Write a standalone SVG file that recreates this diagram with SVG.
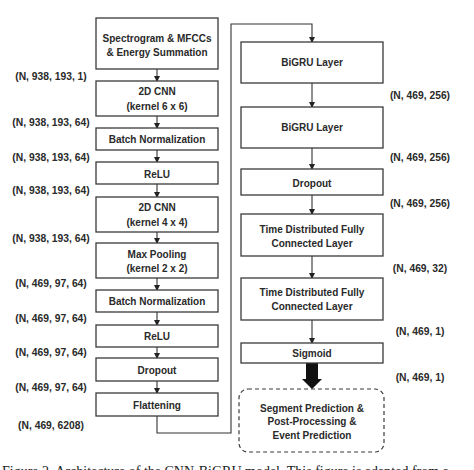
<svg xmlns="http://www.w3.org/2000/svg" width="474" height="470" viewBox="0 0 474 470">
<defs>
<style>
.box{fill:#fff;stroke:#3a3a3a;stroke-width:1.3}
.dash{fill:#fff;stroke:#3a3a3a;stroke-width:1.2;stroke-dasharray:4 3}
.t{font-family:"Liberation Sans",Arial,sans-serif;font-weight:bold;font-size:10px;fill:#2a2a2a;text-anchor:middle}
.lb{font-family:"Liberation Sans",Arial,sans-serif;font-weight:bold;font-size:10.3px;fill:#2a2a2a;text-anchor:middle}
.ln{fill:none;stroke:#333;stroke-width:1.1}
.cap{font-family:"Liberation Serif","Times New Roman",serif;font-size:14px;fill:#222}
</style>
<marker id="ah" markerWidth="6" markerHeight="6" refX="5" refY="3" orient="auto" markerUnits="userSpaceOnUse">
<path d="M0,0 L6,3 L0,6 Z" fill="#222"/>
</marker>
</defs>
<rect width="474" height="470" fill="#fff"/>
<g id="connectors">
<line class="ln" x1="157" y1="69" x2="157" y2="81" marker-end="url(#ah)"/>
<line class="ln" x1="157" y1="116" x2="157" y2="128" marker-end="url(#ah)"/>
<line class="ln" x1="157" y1="150" x2="157" y2="162" marker-end="url(#ah)"/>
<line class="ln" x1="157" y1="184" x2="157" y2="197" marker-end="url(#ah)"/>
<line class="ln" x1="157" y1="232" x2="157" y2="243" marker-end="url(#ah)"/>
<line class="ln" x1="157" y1="278" x2="157" y2="290" marker-end="url(#ah)"/>
<line class="ln" x1="157" y1="312" x2="157" y2="325" marker-end="url(#ah)"/>
<line class="ln" x1="157" y1="347" x2="157" y2="358" marker-end="url(#ah)"/>
<line class="ln" x1="157" y1="381" x2="157" y2="393" marker-end="url(#ah)"/>
<polyline class="ln" points="157,416 157,433 231,433 231,24 312,24 312,42" marker-end="url(#ah)"/>
<line class="ln" x1="312" y1="83" x2="312" y2="107" marker-end="url(#ah)"/>
<line class="ln" x1="312" y1="148" x2="312" y2="169" marker-end="url(#ah)"/>
<line class="ln" x1="312" y1="195" x2="312" y2="214" marker-end="url(#ah)"/>
<line class="ln" x1="312" y1="256" x2="312" y2="278" marker-end="url(#ah)"/>
<line class="ln" x1="312" y1="320" x2="312" y2="343" marker-end="url(#ah)"/>
<path d="M306,363 L318,363 L318,379 L322,379 L312,389 L302,379 L306,379 Z" fill="#111"/>
</g>
<g id="n-spectrogram"><rect class="box" x="96" y="18" width="122" height="51"/><text class="t" x="157" y="41.5">Spectrogram &amp; MFCCs</text><text class="t" x="157" y="55.5">&amp; Energy Summation</text></g>
<g id="n-cnn1"><rect class="box" x="96" y="81" width="122" height="35"/><text class="t" x="157" y="94.5">2D CNN</text><text class="t" x="157" y="110">(kernel 6 x 6)</text></g>
<g id="n-bn1"><rect class="box" x="96" y="128" width="122" height="22"/><text class="t" x="157" y="142.5">Batch Normalization</text></g>
<g id="n-relu1"><rect class="box" x="96" y="162" width="122" height="22"/><text class="t" x="157" y="177.5">ReLU</text></g>
<g id="n-cnn2"><rect class="box" x="96" y="197" width="122" height="35"/><text class="t" x="157" y="210.5">2D CNN</text><text class="t" x="157" y="225.5">(kernel 4 x 4)</text></g>
<g id="n-maxpool"><rect class="box" x="96" y="243" width="122" height="35"/><text class="t" x="157" y="257.5">Max Pooling</text><text class="t" x="157" y="271.5">(kernel 2 x 2)</text></g>
<g id="n-bn2"><rect class="box" x="96" y="290" width="122" height="22"/><text class="t" x="157" y="304.5">Batch Normalization</text></g>
<g id="n-relu2"><rect class="box" x="96" y="325" width="122" height="22"/><text class="t" x="157" y="339.5">ReLU</text></g>
<g id="n-dropout1"><rect class="box" x="96" y="358" width="122" height="23"/><text class="t" x="157" y="373.5">Dropout</text></g>
<g id="n-flatten"><rect class="box" x="96" y="393" width="122" height="23"/><text class="t" x="157" y="408.5">Flattening</text></g>
<g id="n-bigru1"><rect class="box" x="241" y="42" width="142" height="41"/><text class="t" x="312" y="65.5">BiGRU Layer</text></g>
<g id="n-bigru2"><rect class="box" x="241" y="107" width="142" height="41"/><text class="t" x="312" y="130.5">BiGRU Layer</text></g>
<g id="n-dropout2"><rect class="box" x="241" y="169" width="142" height="26"/><text class="t" x="312" y="186.5">Dropout</text></g>
<g id="n-tdfc1"><rect class="box" x="241" y="214" width="142" height="42"/><text class="t" x="312" y="232.5">Time Distributed Fully</text><text class="t" x="312" y="246.5">Connected Layer</text></g>
<g id="n-tdfc2"><rect class="box" x="241" y="278" width="142" height="42"/><text class="t" x="312" y="295.5">Time Distributed Fully</text><text class="t" x="312" y="309.5">Connected Layer</text></g>
<g id="n-sigmoid"><rect class="box" x="241" y="343" width="142" height="20"/><text class="t" x="312" y="356.5">Sigmoid</text></g>
<g id="n-output"><rect class="dash" x="239" y="389" width="145" height="63" rx="9"/><text class="t" x="312" y="411.5">Segment Prediction &amp;</text><text class="t" x="312" y="424.5">Post-Processing &amp;</text><text class="t" x="312" y="438.5">Event Prediction</text></g>
<g id="labels">
<text class="lb" x="51" y="79.5">(N, 938, 193, 1)</text>
<text class="lb" x="51" y="125.5">(N, 938, 193, 64)</text>
<text class="lb" x="51" y="160.5">(N, 938, 193, 64)</text>
<text class="lb" x="51" y="193.5">(N, 938, 193, 64)</text>
<text class="lb" x="51" y="241.5">(N, 938, 193, 64)</text>
<text class="lb" x="51" y="286.5">(N, 469, 97, 64)</text>
<text class="lb" x="51" y="321.5">(N, 469, 97, 64)</text>
<text class="lb" x="51" y="355.5">(N, 469, 97, 64)</text>
<text class="lb" x="51" y="390.5">(N, 469, 97, 64)</text>
<text class="lb" x="51" y="428.5">(N, 469, 6208)</text>
<text class="lb" x="420" y="98.5">(N, 469, 256)</text>
<text class="lb" x="420" y="160.5">(N, 469, 256)</text>
<text class="lb" x="420" y="206.5">(N, 469, 256)</text>
<text class="lb" x="420" y="271.5">(N, 469, 32)</text>
<text class="lb" x="420" y="334.5">(N, 469, 1)</text>
<text class="lb" x="420" y="380.5">(N, 469, 1)</text>
</g>
<text class="cap" x="2" y="476">Figure 2. Architecture of the CNN-BiGRU model. This figure is adapted from a</text>
</svg>
